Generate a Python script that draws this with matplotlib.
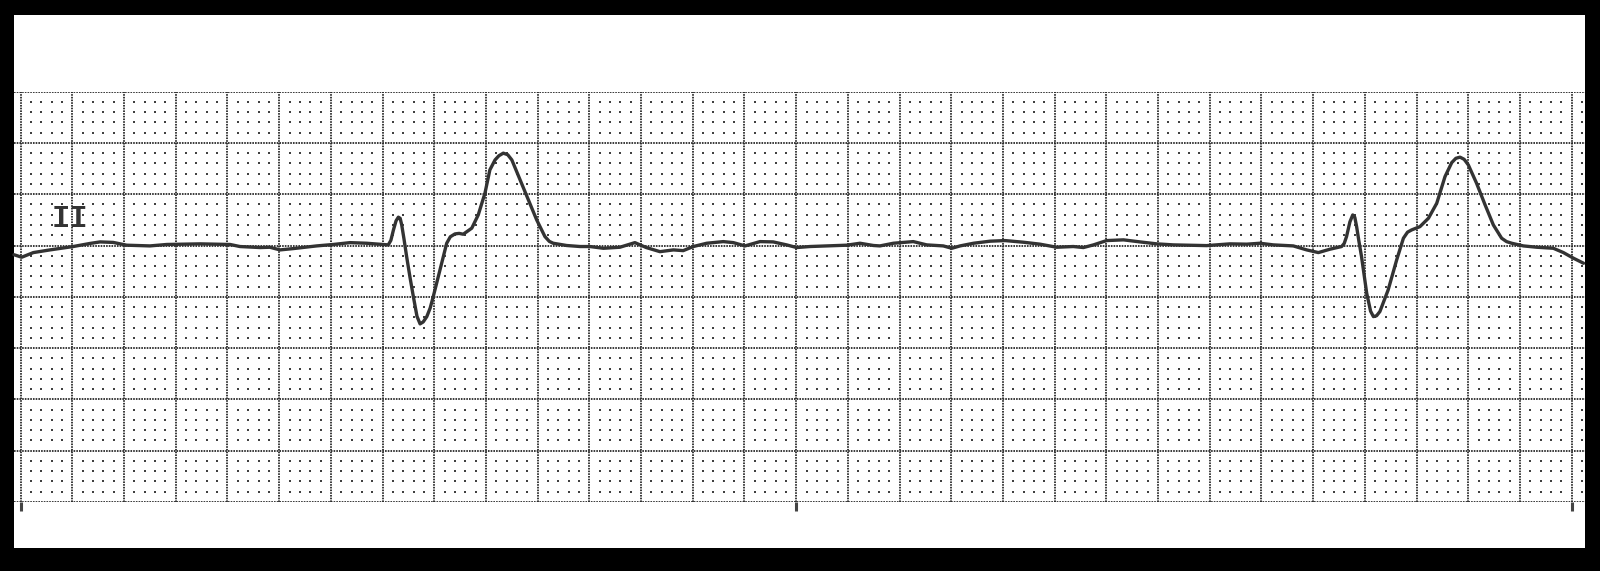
import numpy as np
import matplotlib
matplotlib.use("Agg")
import matplotlib.pyplot as plt
from matplotlib.patches import Rectangle

# ECG lead II trace: time (s) and amplitude (mV), read from the strip
t_sec = [-0.026, 0.004, 0.049, 0.113, 0.203, 0.268, 0.307, 0.358, 0.410, 0.500,
         0.565, 0.694, 0.810, 0.848, 0.926, 0.964, 1.003, 1.055, 1.145, 1.209,
         1.274, 1.338, 1.403, 1.422, 1.432, 1.442, 1.452, 1.461, 1.468, 1.474,
         1.483, 1.493, 1.506, 1.519, 1.533, 1.545, 1.557, 1.571, 1.584, 1.596,
         1.622, 1.648, 1.662, 1.680, 1.696, 1.712, 1.745, 1.770, 1.796, 1.815,
         1.835, 1.850, 1.867, 1.884, 1.900, 1.932, 1.964, 1.996, 2.028, 2.045,
         2.060, 2.112, 2.164,
         2.202, 2.254, 2.318, 2.376, 2.420, 2.473, 2.525, 2.563, 2.602, 2.654,
         2.718, 2.757, 2.802, 2.860, 2.911, 2.963, 3.002, 3.053, 3.118, 3.195,
         3.247, 3.299, 3.324, 3.376, 3.453, 3.505, 3.569, 3.602, 3.634, 3.686,
         3.750, 3.808, 3.879, 3.943, 4.008, 4.072, 4.111, 4.150, 4.201, 4.266,
         4.330, 4.395, 4.459, 4.523, 4.588, 4.678, 4.743, 4.794, 4.846, 4.923,
         4.975, 5.020, 5.065, 5.110, 5.120, 5.129, 5.142, 5.153, 5.161, 5.168,
         5.177, 5.187, 5.207, 5.222, 5.233, 5.245, 5.258, 5.290, 5.323, 5.349,
         5.365, 5.381, 5.413, 5.446, 5.478, 5.510, 5.536, 5.552, 5.568, 5.584,
         5.600, 5.632, 5.665, 5.697, 5.729, 5.748, 5.768, 5.813, 5.865, 5.929,
         5.968, 6.007, 6.046]
v_mv = [-0.090, -0.114, -0.069, -0.043, -0.010, 0.020, 0.035, 0.030, 0.003, -0.004,
        0.010, 0.016, 0.010, -0.010, -0.020, -0.017, -0.043, -0.030, -0.004, 0.010,
        0.028, 0.022, 0.010, 0.006, 0.050, 0.152, 0.240, 0.276, 0.265, 0.200,
        0.060, -0.108, -0.310, -0.498, -0.690, -0.764, -0.745, -0.693, -0.610, -0.498,
        -0.238, 0.022, 0.085, 0.113, 0.118, 0.110, 0.169, 0.298, 0.510, 0.737,
        0.834, 0.875, 0.900, 0.885, 0.834, 0.640, 0.444, 0.250, 0.087, 0.040,
        0.022, 0.000, -0.010,
        -0.010, -0.027, -0.017, 0.028, -0.020, -0.060, -0.043, -0.050, -0.010, 0.022,
        0.038, 0.028, -0.004, 0.038, 0.035, 0.006, -0.020, -0.010, -0.004, 0.003,
        0.022, 0.000, -0.004, 0.022, 0.038, 0.006, -0.004, -0.027, -0.004, 0.022,
        0.042, 0.048, 0.032, 0.013, -0.017, -0.010, -0.020, 0.006, 0.048, 0.055,
        0.035, 0.016, 0.006, 0.003, -0.001, 0.016, 0.013, 0.022, 0.006, -0.004,
        -0.043, -0.069, -0.036, -0.010, 0.020, 0.087, 0.230, 0.298, 0.275, 0.184,
        0.040, -0.108, -0.465, -0.640, -0.693, -0.685, -0.644, -0.433, -0.140, 0.071,
        0.130, 0.152, 0.184, 0.266, 0.412, 0.672, 0.808, 0.850, 0.861, 0.840,
        0.786, 0.607, 0.396, 0.200, 0.071, 0.038, 0.022, -0.004, -0.017, -0.027,
        -0.069, -0.124, -0.173]

lead_label = "II"
timing_marks = [0.0, 3.0, 6.0]

W, H = 1600, 571
fig = plt.figure(figsize=(W / 100, H / 100), dpi=100, facecolor="black")

# white paper
fig.add_artist(Rectangle((14 / W, (H - 548) / H), (1585 - 14) / W, (548 - 15) / H,
                         transform=fig.transFigure, facecolor="white",
                         edgecolor="none", zorder=0))

ax = fig.add_axes([14 / W, (H - 502) / H, (1585 - 14) / W, (502 - 91.6) / H])
ax.set_facecolor("white")
ax.set_xlim(-0.0259, 6.0515)
ax.set_ylim(-2.5, 1.5)
for s in ax.spines.values():
    s.set_visible(False)

# major grid (dotted)
for k in range(31):
    ax.axvline(0.2 * k, color="#2a2a2a", lw=1.3, ls=(0, (0.9, 0.6)), zorder=1)
for j in range(9):
    ax.axhline(-2.5 + 0.5 * j, color="#2a2a2a", lw=1.3, ls=(0, (0.9, 0.6)), zorder=1)

# minor grid dots
xs = [0.04 * k for k in range(152) if k % 5 != 0]
ys = [-2.5 + 0.1 * j for j in range(40) if j % 5 != 0]
X, Y = np.meshgrid(xs, ys)
ax.plot(X.ravel(), Y.ravel(), ls="none", marker="_", ms=2.0, mew=1.4,
        color="#3a3a3a", zorder=1)

# trace
ax.plot(t_sec, v_mv, color="#333333", lw=2.4, solid_joinstyle="round",
        solid_capstyle="round", zorder=3, clip_on=False)

ax.text(0.19, 0.254, lead_label, family="Liberation Mono", fontsize=22,
        fontweight="bold", color="#333333", ha="center", va="center", zorder=4)

# timing marks
ax.set_xticks(timing_marks)
ax.set_xticklabels([])
ax.set_yticks([])
ax.tick_params(axis="x", direction="out", length=6.5, width=2.2, color="#444444")

fig.savefig("out.png", dpi=100, facecolor="black")
